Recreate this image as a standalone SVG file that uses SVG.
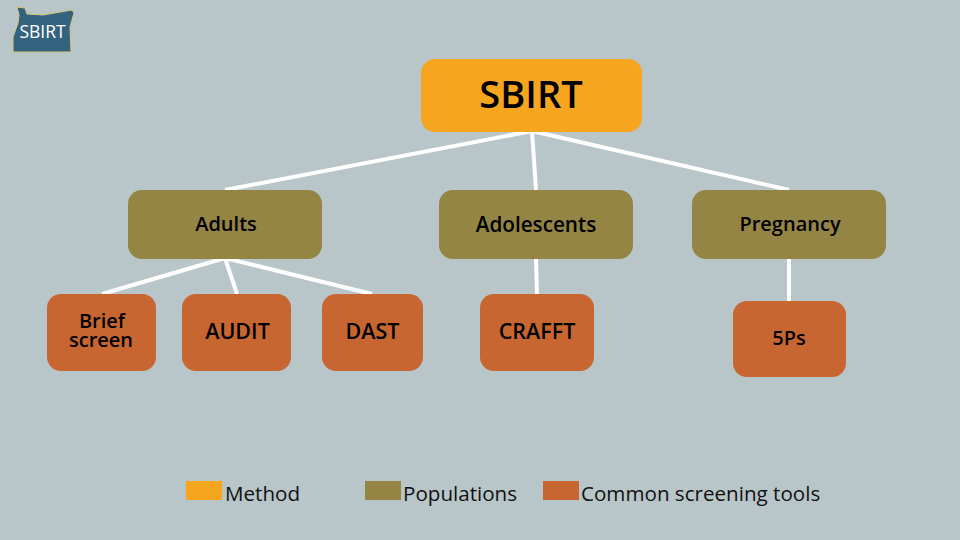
<svg xmlns="http://www.w3.org/2000/svg" width="960" height="540" viewBox="0 0 960 540">
<style>
text{font-family:"Open Sans","Noto Sans","DejaVu Sans",sans-serif;fill:#000;text-anchor:middle}
.l{font-size:20.600px;text-anchor:start;fill:#111}
.b{font-size:20px;font-weight:600}
.u{font-size:21.500px;font-weight:600}
.m{fill:#f6a51f}.p{fill:#948545}.t{fill:#c86631}
.c{stroke:#fff;stroke-width:4;fill:none}
</style>
<rect width="960" height="540" fill="#b8c5c9"/>
<g id="logo">
<path d="M17 7L25 8L27 14L43 15L72 10L74 13L70 27L71 52L13 52L13 37L18 23L19 15Z" fill="#346380" stroke="#d8c878" stroke-width="1"/>
<text x="42.500" y="37.500" font-size="17.500" style="fill:#fff">SBIRT</text>
</g>
<g id="connectors">
<path class="c" d="M532 131L225 190M532 131L536 190M532 131L789 190M225 258L102 294M225 258L237 294M225 258L372 294M536 258L537 294M789 258L789 301"/>
</g>
<g id="n-sbirt"><rect class="m" x="421" y="59" width="221" height="73" rx="14"/><text x="531" y="108" font-size="38" font-weight="600">SBIRT</text></g>
<g id="n-adults"><rect class="p" x="128" y="190" width="194" height="69" rx="14"/><text class="b" x="226" y="231">Adults</text></g>
<g id="n-adolescents"><rect class="p" x="439" y="190" width="194" height="69" rx="14"/><text class="b" x="536" y="231.500" style="font-size:20.700px">Adolescents</text></g>
<g id="n-pregnancy"><rect class="p" x="692" y="190" width="194" height="69" rx="14"/><text class="b" x="790" y="231">Pregnancy</text></g>
<g id="n-brief"><rect class="t" x="47" y="294" width="109" height="77" rx="14"/><text class="b" text-anchor="middle"><tspan x="102" y="328">Brief</tspan><tspan x="101" y="347">screen</tspan></text></g>
<g id="n-audit"><rect class="t" x="182" y="294" width="109" height="77" rx="14"/><text class="u" x="237.500" y="339">AUDIT</text></g>
<g id="n-dast"><rect class="t" x="322" y="294" width="101" height="77" rx="14"/><text class="u" x="372.500" y="339">DAST</text></g>
<g id="n-crafft"><rect class="t" x="480" y="294" width="114" height="77" rx="14"/><text class="u" x="537" y="339">CRAFFT</text></g>
<g id="n-5ps"><rect class="t" x="733" y="301" width="113" height="76" rx="14"/><text class="b" x="789" y="345">5Ps</text></g>
<g id="legend-method"><rect class="m" x="186" y="481" width="36" height="19"/><text class="l" x="225" y="500.500">Method</text></g>
<g id="legend-populations"><rect class="p" x="365" y="481" width="36" height="19"/><text class="l" x="403" y="500.500">Populations</text></g>
<g id="legend-tools"><rect class="t" x="543" y="481" width="36" height="19"/><text class="l" x="581" y="500.500">Common screening tools</text></g>
</svg>
